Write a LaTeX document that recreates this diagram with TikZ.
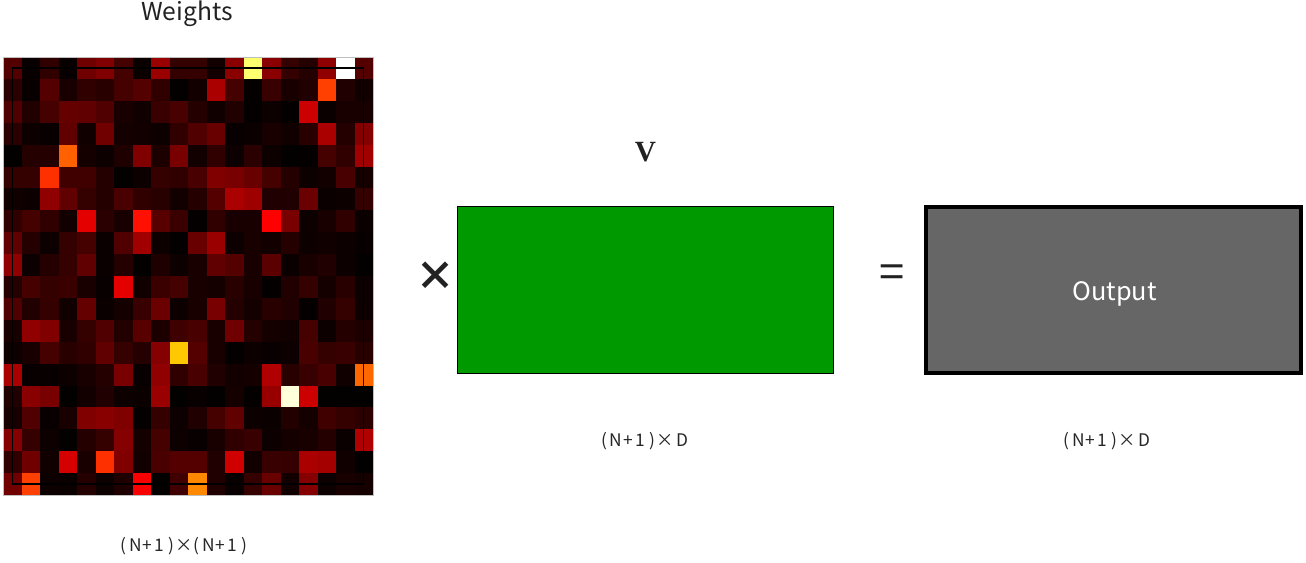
\documentclass[tikz,border=0pt]{standalone}
\usepackage{fontspec}
\newfontfamily\jp{Noto Sans CJK JP}
\newfontfamily\tnr{Liberation Serif}
\newcommand\chb[2]{\makebox[#1][c]{#2}}
\newcommand\dimlabA{\chb{9pt}{(}\chb{9pt}{N}\chb{9pt}{+}\chb{9pt}{1}\chb{9pt}{)}\chb{10pt}{×}\chb{9pt}{(}\chb{9pt}{N}\chb{9pt}{+}\chb{9pt}{1}\chb{9pt}{)}}
\newcommand\dimlabB{\chb{9pt}{(}\chb{9pt}{N}\chb{9pt}{+}\chb{9pt}{1}\chb{9pt}{)}\chb{10pt}{×}\chb{16pt}{D}}
\definecolor{greenbox}{RGB}{0,153,0}
\definecolor{graybox}{RGB}{102,102,102}
\definecolor{txtdark}{RGB}{34,34,34}
\tikzset{
  lab/.style={font=\jp\fontsize{13pt}{15pt}\selectfont, text=black!85, inner sep=0pt, anchor=base},
  op/.style={font=\jp, text=txtdark, inner sep=0pt, anchor=center},
  matbox/.style={inner sep=0pt, anchor=center},
}
\begin{document}
\begin{tikzpicture}[x=0.75pt,y=-0.75pt]
\useasboundingbox (0,0) rectangle (1306,562);
% heatmap cells (hot colormap, value = r+g+b)
\foreach \row [count=\i from 0] in {
{85,8,48,8,112,128,69,10,154,53,53,18,138,622,138,53,37,144,765,85},
{42,8,85,24,48,40,69,85,48,3,18,170,69,5,56,24,32,319,32,16},
{80,32,69,101,96,80,24,16,56,72,37,16,32,5,12,5,204,10,24,24},
{42,12,8,96,16,112,21,18,12,48,80,104,8,10,24,16,40,170,37,133},
{3,37,37,351,21,12,30,128,28,120,18,48,12,42,12,3,5,69,48,160},
{53,53,303,64,64,37,3,12,53,48,72,128,120,104,69,37,12,18,72,21},
{16,12,144,96,53,37,72,48,40,18,37,85,170,158,32,32,106,10,12,53},
{48,69,48,18,229,42,24,271,88,58,5,48,24,24,255,120,12,24,48,10},
{96,37,12,53,69,10,80,160,12,5,104,154,12,24,18,37,12,16,12,8},
{144,12,37,53,96,10,37,3,30,12,24,96,85,24,90,10,24,32,12,3},
{37,69,53,58,24,8,229,16,58,69,24,21,40,24,5,32,53,21,40,12},
{80,32,53,16,101,10,21,56,106,12,24,120,37,21,40,32,5,32,53,12},
{24,144,128,24,53,80,34,88,28,62,72,24,112,37,21,16,69,12,37,28},
{12,24,69,40,48,96,53,37,133,455,85,24,5,12,8,12,72,53,56,40},
{170,8,8,12,24,37,120,8,144,48,72,32,18,21,176,40,56,72,16,359},
{32,136,120,3,18,32,12,10,154,3,8,3,21,5,152,728,204,3,3,3},
{24,80,8,24,128,136,128,5,53,12,32,69,96,12,10,34,21,64,53,42},
{133,53,12,3,37,53,133,21,69,12,8,24,48,56,12,21,24,37,10,176},
{48,112,16,213,24,303,128,18,72,85,85,32,208,18,56,53,170,165,16,3},
{112,319,12,10,37,12,30,250,3,64,391,32,8,53,104,18,133,12,24,21}}{
  \foreach \s [count=\j from 0] in \row {
    \pgfmathtruncatemacro\hr{min(\s,255)}
    \pgfmathtruncatemacro\hg{min(max(\s-255,0),255)}
    \pgfmathtruncatemacro\hb{max(\s-510,0)}
    \definecolor{hc}{RGB}{\hr,\hg,\hb}
    \fill[hc] ({3+\j*18.5},{57+\i*21.9}) rectangle ++(18.8,22.2);
  }
}
\draw[black!25, line width=0.5pt] (3,57) rectangle (373,495);
\draw[black, line width=0.9pt] (12.25,67.95) rectangle (363.75,484.05);
% texts
\node[font=\jp\fontsize{18.5pt}{22pt}\selectfont, text=txtdark, inner sep=0pt, anchor=base] (wt) at (187,20.7) {Weights};
\node[font=\tnr\bfseries\fontsize{22pt}{26pt}\selectfont, text=txtdark, inner sep=0pt, anchor=base] (vt) at (645.5,161) {V};
\node[op, font=\jp\bfseries\fontsize{30pt}{34pt}\selectfont] (times) at (435.5,276.5) {×};
\node[matbox, draw=black, line width=0.75pt, fill=greenbox, minimum width=282pt, minimum height=124.9pt] (vbox) at (645,289.75) {};
\node[op, font=\jp\fontsize{34pt}{38pt}\selectfont] (eq) at (892,276.5) {=};
\node[matbox, draw=black, line width=3pt, fill=graybox, minimum width=281.25pt, minimum height=124.5pt] (obox) at (1113.5,290) {};
\node[font=\jp\fontsize{19pt}{22pt}\selectfont, text=white, inner sep=0pt, anchor=base] (otxt) at (1114.5,300.5) {Output};
\node[lab] (dimw) at (184,551.5) {\dimlabA};
\node[lab] (dimv) at (645.5,446.7) {\dimlabB};
\node[lab] (dimo) at (1108,446.7) {\dimlabB};
\end{tikzpicture}
\end{document}
